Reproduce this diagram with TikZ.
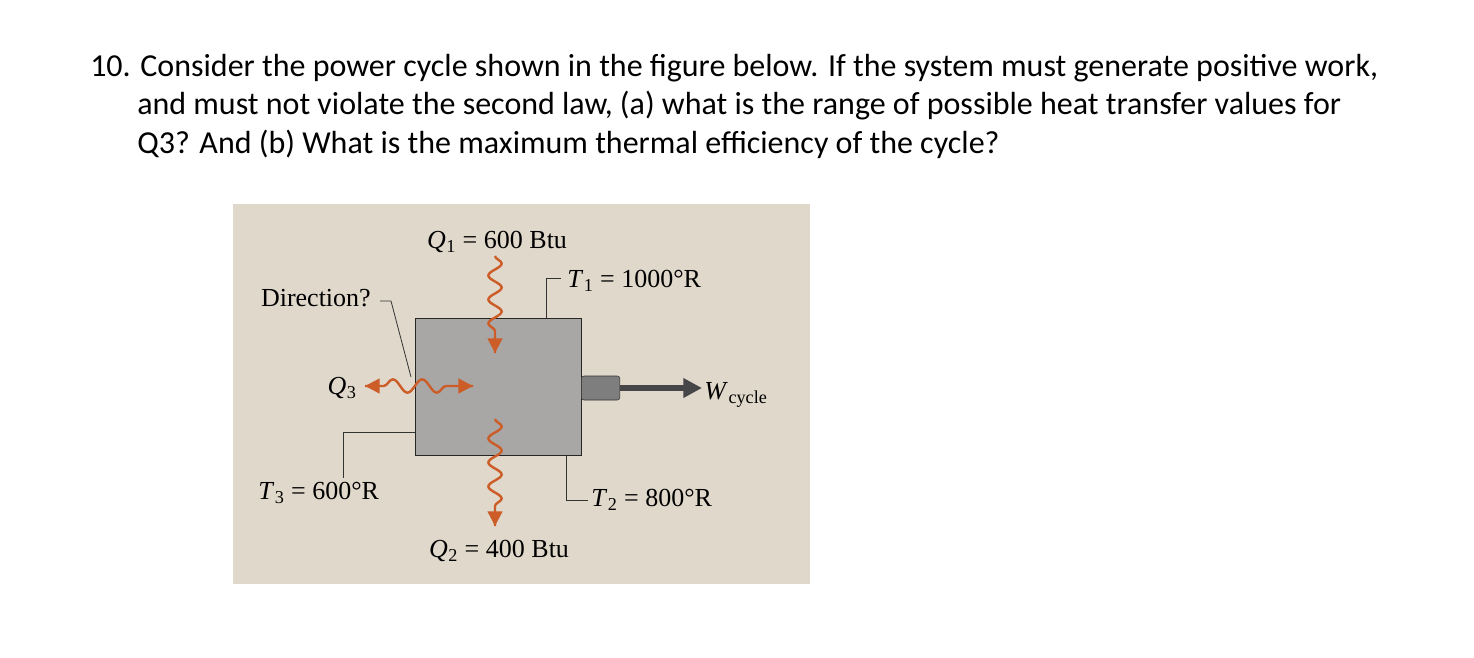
\documentclass[tikz,border=0pt]{standalone}
\usepackage{fontspec}
\setmainfont{Liberation Serif}
\newfontfamily\qfont{Carlito}
\usetikzlibrary{decorations.pathmorphing,arrows.meta}
\definecolor{beige}{RGB}{224,216,203}
\definecolor{boxgrey}{RGB}{168,167,166}
\definecolor{heat}{RGB}{204,92,40}
\definecolor{wgrey}{RGB}{70,70,72}
\newcommand{\ivar}[2]{\textit{#1}\kern0.5pt\textsubscript{#2}}
\begin{document}
\begin{tikzpicture}[x=0.75pt,y=-0.75pt,
  qline/.style={font=\qfont\fontsize{24}{28}\selectfont,anchor=base west,inner sep=0},
  lbl/.style={font=\fontsize{19.5}{21}\selectfont,inner sep=0},
  lead/.style={draw=black!80,line width=0.6pt},
  wave/.style={draw=heat,line width=1.8pt,decorate,decoration={snake,amplitude=5,segment length=18,pre length=0,post length=14}},
  heattip/.style={-{Triangle[length=11pt,width=11pt]}}]
\useasboundingbox (0,0) rectangle (1474,657);
\fill[white] (0,0) rectangle (1474,657);
% question
\node[qline] (l1) at (90,76) {10. Consider the power cycle shown in the figure below. If the system must generate positive work,};
\node[qline] (l2) at (137,114) {and must not violate the second law, (a) what is the range of possible heat transfer values for};
\node[qline] (l3) at (137,153) {Q3? And (b) What is the maximum thermal efficiency of the cycle?};
% photo background
\fill[beige] (233,204) rectangle (810,584);
% box
\node[draw=black!85,line width=1pt,fill=boxgrey,minimum width=124.5pt,minimum height=102.75pt,inner sep=0,anchor=north west] (box) at (415,318) {};
% shaft and work arrow
\node[draw=black!80,fill=wgrey!70,rounded corners=2pt,minimum width=29pt,minimum height=18pt,inner sep=0,anchor=west] (shaft) at (581,388) {};
\coordinate (wend) at (702,388);
\draw[wgrey,line width=5pt,-{Triangle[length=14pt,width=14pt]}] (shaft.east) -- (wend);
\node[lbl,anchor=west] (w) at (704,395) {\ivar{W}{cycle}};
% heat arrows
\coordinate (q1s) at (495,256); \coordinate (q1e) at (495,353);
\draw[wave] (q1s) -- (q1e);
\draw[heat,line width=1.8pt,heattip] (495,338) -- (q1e);
\coordinate (q2s) at (495,419); \coordinate (q2e) at (495,526);
\draw[wave] (q2s) -- (q2e);
\draw[heat,line width=1.8pt,heattip] (495,510) -- (q2e);
\coordinate (q3l) at (365,386); \coordinate (q3r) at (473,386);
\draw[heat,line width=1.8pt,decorate,decoration={snake,amplitude=5,segment length=22,pre length=14,post length=14}] (q3l) -- (q3r);
\draw[heat,line width=1.8pt,heattip] (382,386) -- (q3l);
\draw[heat,line width=1.8pt,heattip] (456,386) -- (q3r);
% labels
\node[lbl,anchor=base] (q1) at (497,248) {\ivar{Q}{1} = 600 Btu};
\node[lbl,anchor=base] (q2) at (499,557) {\ivar{Q}{2} = 400 Btu};
\node[lbl,anchor=base east] (q3) at (357,394) {\ivar{Q}{3}};
\node[lbl,anchor=base west] (t1) at (567,287) {\ivar{T}{1} = 1000°R};
\node[lbl,anchor=base west] (t2) at (591,506) {\ivar{T}{2} = 800°R};
\node[lbl,anchor=base west] (t3) at (258,499) {\ivar{T}{3} = 600°R};
\node[lbl,anchor=base east] (dir) at (371,306) {Direction?};
% leaders
\draw[lead] (box.north west -| 546,0) -- (546,278) -- (561,278);
\draw[lead] (box.south west -| 566,0) -- (566,500) -- (588,500);
\draw[lead] (box.west |- 0,432) -- (343,432) -- (343,478);
\draw[lead] (380,301) -- (391,301) -- (411,377);
\end{tikzpicture}
\end{document}
